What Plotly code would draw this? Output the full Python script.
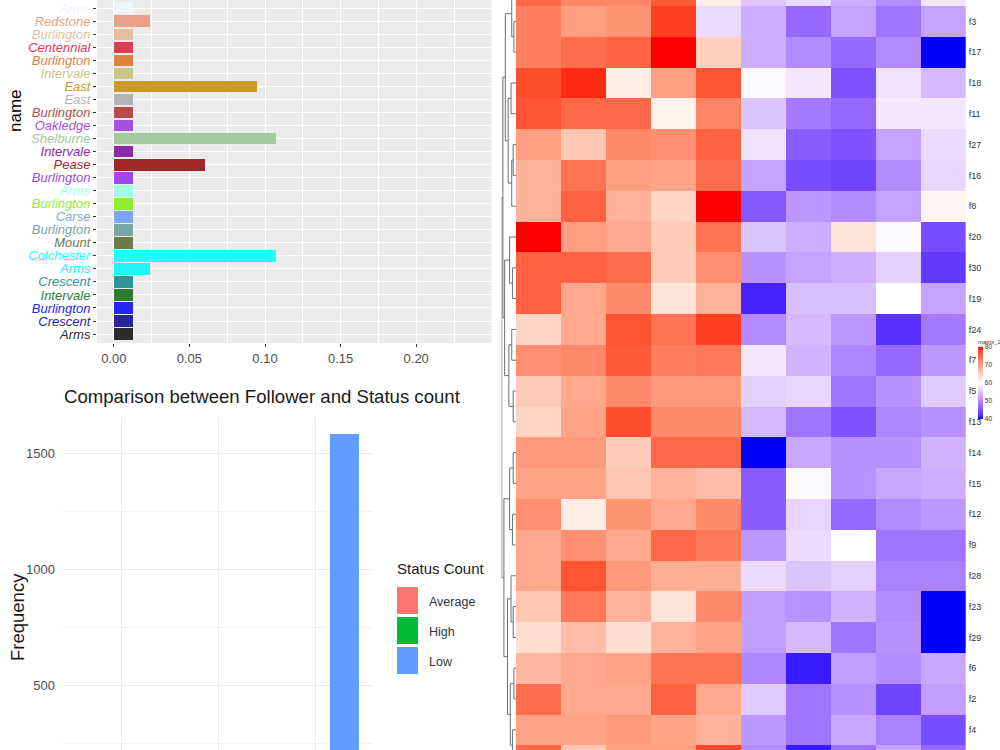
import numpy as np
import plotly.graph_objects as go

W, H = 1000, 750

# ---------------- data: top-left bar chart ----------------
bar_names = ["Arms", "Redstone", "Burlington", "Centennial", "Burlington", "Intervale", "East", "East",
             "Burlington", "Oakledge", "Shelburne", "Intervale", "Pease", "Burlington", "Arms", "Burlington",
             "Carse", "Burlington", "Mount", "Colchester", "Arms", "Crescent", "Intervale", "Burlington",
             "Crescent", "Arms"]
bar_values = [0.0125, 0.024, 0.0125, 0.0125, 0.0125, 0.0125, 0.095, 0.0125,
              0.0125, 0.0125, 0.107, 0.0125, 0.060, 0.0125, 0.0125, 0.0125,
              0.0125, 0.0125, 0.0125, 0.107, 0.024, 0.0125, 0.0125, 0.0125,
              0.0125, 0.0125]
bar_colors = ["#EEF5FF", "#E9A08A", "#E2C09A", "#E03A55", "#DD8240", "#CBC48A", "#C9992E", "#B3B3B3",
              "#B84A4A", "#A550E0", "#A3C8A0", "#8E2AA8", "#A02828", "#9C4AEA", "#A0FFE0", "#90EE30",
              "#7CA4F0", "#7AA4A6", "#6E7A4C", "#20FFFF", "#20F5F5", "#2E9696", "#2E7D32", "#2626F0",
              "#26269A", "#2B2B2B"]
bar_xticks = [0.0, 0.05, 0.10, 0.15, 0.20]

# ---------------- data: bottom-left frequency chart ----------------
status_levels = ["Average", "High", "Low"]
status_colors = ["#F8766D", "#00BA38", "#619CFF"]
low_follower_bin = [2.3]
low_frequency = [1582]
freq_yticks = [500, 1000, 1500]

# ---------------- data: heatmap ----------------
heat_rows = ["f10", "f3", "f17", "f18", "f11", "f27", "f16", "f8", "f20", "f30", "f19", "f24", "f7",
             "f5", "f13", "f14", "f15", "f12", "f9", "f28", "f23", "f29", "f6", "f2", "f4", "f1"]
heat_cols = ["c1", "c2", "c3", "c4", "c5", "c6", "c7", "c8", "c9", "c10"]
heat_values = [
    [75, 72, 72, 76, 62, 55, 57, 53, 50, 58],
    [73, 70, 71, 78, 57, 53, 47, 52, 48, 52],
    [73, 74.5, 75.5, 80, 65, 53, 50, 47, 50, 40],
    [77, 79, 62, 70, 76.5, 59.5, 58, 45, 57.5, 54],
    [76.5, 75, 75, 61.5, 72.5, 55, 48.5, 47, 58, 58],
    [70, 66, 72, 71.5, 75.5, 57.5, 46, 45, 52, 57],
    [68, 74, 70, 69.5, 74.5, 52, 44.5, 44, 50, 56.5],
    [68, 75.5, 68, 64.5, 80, 45.5, 51, 50, 52, 61],
    [80, 70, 69, 65.5, 74, 55, 53, 63, 59.5, 44.5],
    [75.5, 75.5, 74.5, 65.5, 71.5, 50.5, 52, 53, 56, 43],
    [75.5, 69, 72, 63, 68, 41.5, 54.5, 54.5, 60, 52],
    [64.5, 69, 76.5, 74, 78, 50, 54, 51, 42.5, 48.5],
    [71.5, 72, 76, 73, 73.5, 58, 53.5, 49.5, 47, 51],
    [65.5, 69, 72, 70.5, 70.5, 56, 56.5, 48, 50.5, 55.5],
    [64.5, 69.5, 77, 72, 72, 54, 48, 45, 49.5, 50.5],
    [70.5, 70.5, 65.5, 75, 75, 40, 52.5, 50.5, 50.5, 53.5],
    [69.5, 69.5, 66, 68, 67, 46, 59.5, 50.5, 52.5, 53],
    [71.5, 62, 71, 69, 72, 46, 56.5, 47, 50, 51],
    [69, 71.5, 69, 75, 73.5, 51, 57, 60, 48, 48],
    [69, 76.5, 70.5, 68.5, 68.5, 57, 55, 56, 49, 49],
    [66, 73.5, 68, 63, 72, 51.5, 50.5, 53.5, 50, 40],
    [63.5, 67, 63.5, 68, 69.5, 51.5, 54, 48, 50.5, 40],
    [67.5, 69, 69.5, 74, 74, 49.5, 41, 51.5, 50, 52.5],
    [74.5, 69, 69, 75.5, 69, 55.5, 48, 50.5, 44, 51.5],
    [69.5, 69.5, 70.5, 69.5, 68, 51, 48, 52.5, 49, 44.5],
    [75, 66, 70, 70, 77.5, 50, 41, 48, 52, 47],
]
# row dendrogram: [left, right, merge height]; leaves are row indices
row_tree = [
    [[[0, [1, 2, 0.15], 0.3], [[3, 4, 0.35], [[5, 6, 0.2], 7, 0.3], 0.55], 0.75],
     [[8, [9, 10, 0.25], 0.45], [[11, 12, 0.3], [13, 14, 0.2], 0.5], 0.8], 0.92],
    [[[15, 16, 0.2], [17, 18, 0.25], 0.45],
     [[19, [20, 21, 0.2], 0.35], [[22, 23, 0.15], [24, 25, 0.25], 0.4], 0.6], 0.85],
    1.0]
heat_breaks = [40, 60, 80]
heat_break_colors = [(0, 0, 255), (255, 255, 255), (255, 0, 0)]

# ---------------- helpers ----------------
FONT = "Liberation Sans, Arial, sans-serif"


def px(x):
    return x / W


def py(y):
    return 1 - y / H


def srgb_to_lab(rgb):
    c = np.array(rgb, float) / 255.0
    c = np.where(c <= 0.04045, c / 12.92, ((c + 0.055) / 1.055) ** 2.4)
    M = np.array([[0.4124, 0.3576, 0.1805], [0.2126, 0.7152, 0.0722], [0.0193, 0.1192, 0.9505]])
    xyz = M @ c / np.array([0.95047, 1.0, 1.08883])
    f = np.where(xyz > 0.008856, np.cbrt(xyz), 7.787 * xyz + 16 / 116)
    return np.array([116 * f[1] - 16, 500 * (f[0] - f[1]), 200 * (f[1] - f[2])])


def lab_to_srgb(lab):
    L, a, b = lab
    fy = (L + 16) / 116
    fx = fy + a / 500
    fz = fy - b / 200
    f = np.array([fx, fy, fz])
    xyz = np.where(f ** 3 > 0.008856, f ** 3, (f - 16 / 116) / 7.787) * np.array([0.95047, 1.0, 1.08883])
    Minv = np.array([[3.2406, -1.5372, -0.4986], [-0.9689, 1.8758, 0.0415], [0.0557, -0.2040, 1.0570]])
    c = Minv @ xyz
    c = np.clip(c, 0, 1)
    c = np.where(c <= 0.0031308, 12.92 * c, 1.055 * c ** (1 / 2.4) - 0.055)
    return tuple(int(round(v * 255)) for v in np.clip(c, 0, 1))


labs = [srgb_to_lab(c) for c in heat_break_colors]
zmin, zmax = heat_breaks[0], heat_breaks[-1]
colorscale = []
for v in np.linspace(zmin, zmax, 41):
    k = 0 if v <= heat_breaks[1] else 1
    t = (v - heat_breaks[k]) / (heat_breaks[k + 1] - heat_breaks[k])
    lab = labs[k] * (1 - t) + labs[k + 1] * t
    r, g, b = lab_to_srgb(lab)
    colorscale.append([(v - zmin) / (zmax - zmin), f"rgb({r},{g},{b})"])


def tree_segments(node, xs, ys):
    """returns (y position, height) for node and appends line segments"""
    if isinstance(node, int):
        return float(node), 0.0
    left, right, h = node
    yl, hl = tree_segments(left, xs, ys)
    yr, hr = tree_segments(right, xs, ys)
    xs += [hl, h, h, hr, None]
    ys += [yl, yl, yr, yr, None]
    return (yl + yr) / 2, h


fig = go.Figure()

# ---------------- top-left bar chart ----------------
n = len(bar_names)
rows = list(range(n))
fig.add_trace(go.Bar(
    x=bar_values, y=rows, orientation="h", width=0.9,
    marker=dict(color=bar_colors, line=dict(width=0)),
    xaxis="x", yaxis="y", showlegend=False, hoverinfo="skip"))

ticktext = [f"<i><span style='color:{c}'>{nm}</span></i>" for nm, c in zip(bar_names, bar_colors)]
y_top_px, row_step = 8.3, 13.03
y_lo = (343 - y_top_px) / row_step
y_hi = (0 - y_top_px) / row_step
x0_px, unit_px = 113.8, 1512.0
fig.update_layout(
    xaxis=dict(domain=[px(97), px(491.5)],
               range=[(97 - x0_px) / unit_px, (491.5 - x0_px) / unit_px],
               anchor="y", tickvals=bar_xticks, ticktext=[f"{v:.2f}" for v in bar_xticks],
               ticks="outside", ticklen=3, tickcolor="#333333", tickwidth=1,
               tickfont=dict(family=FONT, size=13, color="#4D4D4D"),
               showgrid=True, gridcolor="white", gridwidth=1.1,
               minor=dict(tickvals=[0.025, 0.075, 0.125, 0.175, 0.225], showgrid=True,
                          gridcolor="white", gridwidth=0.5, ticks=""),
               zeroline=False, showline=False, fixedrange=True, automargin=False),
    yaxis=dict(domain=[py(343), 1], range=[y_lo, y_hi], anchor="x",
               tickvals=rows, ticktext=ticktext,
               ticks="outside", ticklen=3, tickcolor="#333333", tickwidth=1,
               tickfont=dict(family=FONT, size=13),
               showgrid=True, gridcolor="white", gridwidth=1.1,
               zeroline=False, showline=False, fixedrange=True, automargin=False),
)

# ---------------- bottom-left frequency chart ----------------
fig.add_trace(go.Bar(
    x=low_follower_bin, y=low_frequency, width=0.3,
    marker=dict(color=status_colors[2], line=dict(width=0)),
    xaxis="x2", yaxis="y2", showlegend=False, hoverinfo="skip"))

f_px0, f_unit = 121.7, 96.7
fy_ref_px, fy_per = 453.5, 116.0 / 500
fig.update_layout(
    xaxis2=dict(domain=[px(62), px(372)],
                range=[(62 - f_px0) / f_unit, (372 - f_px0) / f_unit],
                anchor="y2", tickvals=[0, 1, 2], showticklabels=False, ticks="",
                showgrid=True, gridcolor="#EBEBEB", gridwidth=1,
                zeroline=False, showline=False, fixedrange=True, automargin=False),
    yaxis2=dict(domain=[0, py(417)],
                range=[1500 - (750 - fy_ref_px) / fy_per, 1500 + (fy_ref_px - 417) / fy_per],
                anchor="x2", tickvals=freq_yticks, ticks="",
                tickfont=dict(family=FONT, size=13, color="#4D4D4D"),
                showgrid=True, gridcolor="#EBEBEB", gridwidth=1,
                minor=dict(tickvals=[250, 750, 1250], showgrid=True, gridcolor="#F2F2F2",
                           gridwidth=1, ticks=""),
                zeroline=False, showline=False, fixedrange=True, ticklabelstandoff=6,
                automargin=False),
)

# ---------------- heatmap ----------------
rows_h = list(range(len(heat_rows)))
fig.add_trace(go.Heatmap(
    z=heat_values, x=list(range(len(heat_cols))), y=rows_h,
    zmin=zmin, zmax=zmax, colorscale=colorscale,
    xaxis="x3", yaxis="y3", hoverinfo="skip", xgap=0, ygap=0,
    colorbar=dict(x=px(978), xanchor="left", y=py(336), yanchor="top",
                  len=83, lenmode="pixels", thickness=5, thicknessmode="pixels",
                  xpad=0, ypad=0, outlinewidth=0,
                  tickvals=[40, 50, 60, 70, 80], ticks="",
                  tickfont=dict(family=FONT, size=6.5, color="#333333"),
                  title=dict(text="matrix_2", side="top",
                             font=dict(family=FONT, size=6, color="#333333")))))

r_top_px, r_step = 21.4, 30.8
h_lo = 1 + (750 - r_top_px) / r_step
h_hi = 1 + (0 - r_top_px) / r_step
fig.update_layout(
    xaxis3=dict(domain=[px(516), px(965.7)], range=[-0.5, len(heat_cols) - 0.5], anchor="y3",
                showticklabels=False, ticks="", showgrid=False, zeroline=False, showline=False,
                fixedrange=True, automargin=False),
    yaxis3=dict(domain=[0, 1], range=[h_lo, h_hi], anchor="x3", side="right",
                tickvals=rows_h, ticktext=heat_rows, ticks="",
                tickfont=dict(family=FONT, size=9, color="#333333"),
                showgrid=False, zeroline=False, showline=False, fixedrange=True,
                ticklabelstandoff=2, automargin=False),
)

# ---------------- row dendrogram ----------------
dx, dy = [], []
tree_segments(row_tree, dx, dy)
fig.add_trace(go.Scatter(x=dx, y=dy, mode="lines", line=dict(color="#6E6E6E", width=1),
                         xaxis="x4", yaxis="y4", showlegend=False, hoverinfo="skip"))
fig.update_layout(
    xaxis4=dict(domain=[px(501.5), px(516)], range=[1.02, 0], anchor="y4", visible=False,
                fixedrange=True, automargin=False),
    yaxis4=dict(domain=[0, 1], range=[h_lo, h_hi], anchor="x4", visible=False, fixedrange=True,
                automargin=False),
)

# ---------------- text & legend ----------------
ann = [
    dict(text="name", x=px(15), y=py(111), textangle=-90,
         font=dict(family=FONT, size=17, color="black")),
    dict(text="Comparison between Follower and Status count", x=px(262), y=py(396),
         font=dict(family=FONT, size=18.6, color="#1A1A1A")),
    dict(text="Frequency", x=px(17), y=py(617), textangle=-90,
         font=dict(family=FONT, size=18.5, color="#1A1A1A")),
    dict(text="Status Count", x=px(395), y=py(568), xanchor="left",
         font=dict(family=FONT, size=15, color="#1A1A1A")),
]
shapes = []
key_top = 587
for i, (lvl, col) in enumerate(zip(status_levels, status_colors)):
    t = key_top + i * 30
    shapes.append(dict(type="rect", xref="paper", yref="paper",
                       x0=px(397), x1=px(418), y0=py(t), y1=py(t + 27),
                       fillcolor=col, line=dict(width=0), layer="above"))
    ann.append(dict(text=lvl, x=px(427), y=py(t + 15), xanchor="left",
                    font=dict(family=FONT, size=12.5, color="#333333")))
for a in ann:
    a.update(xref="paper", yref="paper", showarrow=False)
    a.setdefault("xanchor", "center")
    a.setdefault("yanchor", "middle")

# grey panel background for top-left chart
shapes.insert(0, dict(type="rect", xref="paper", yref="paper",
                      x0=px(97), x1=px(491.5), y0=py(343), y1=1,
                      fillcolor="#EBEBEB", line=dict(width=0), layer="below"))

fig.update_layout(
    width=W, height=H, margin=dict(l=0, r=0, t=0, b=0, pad=0, autoexpand=False),
    paper_bgcolor="white", plot_bgcolor="rgba(0,0,0,0)",
    annotations=ann, shapes=shapes, showlegend=False,
    bargap=0, font=dict(family=FONT),
)

fig.write_html("out.html", config={"displayModeBar": False},
               post_script="document.body.style.margin='0';document.body.style.overflow='hidden';")
